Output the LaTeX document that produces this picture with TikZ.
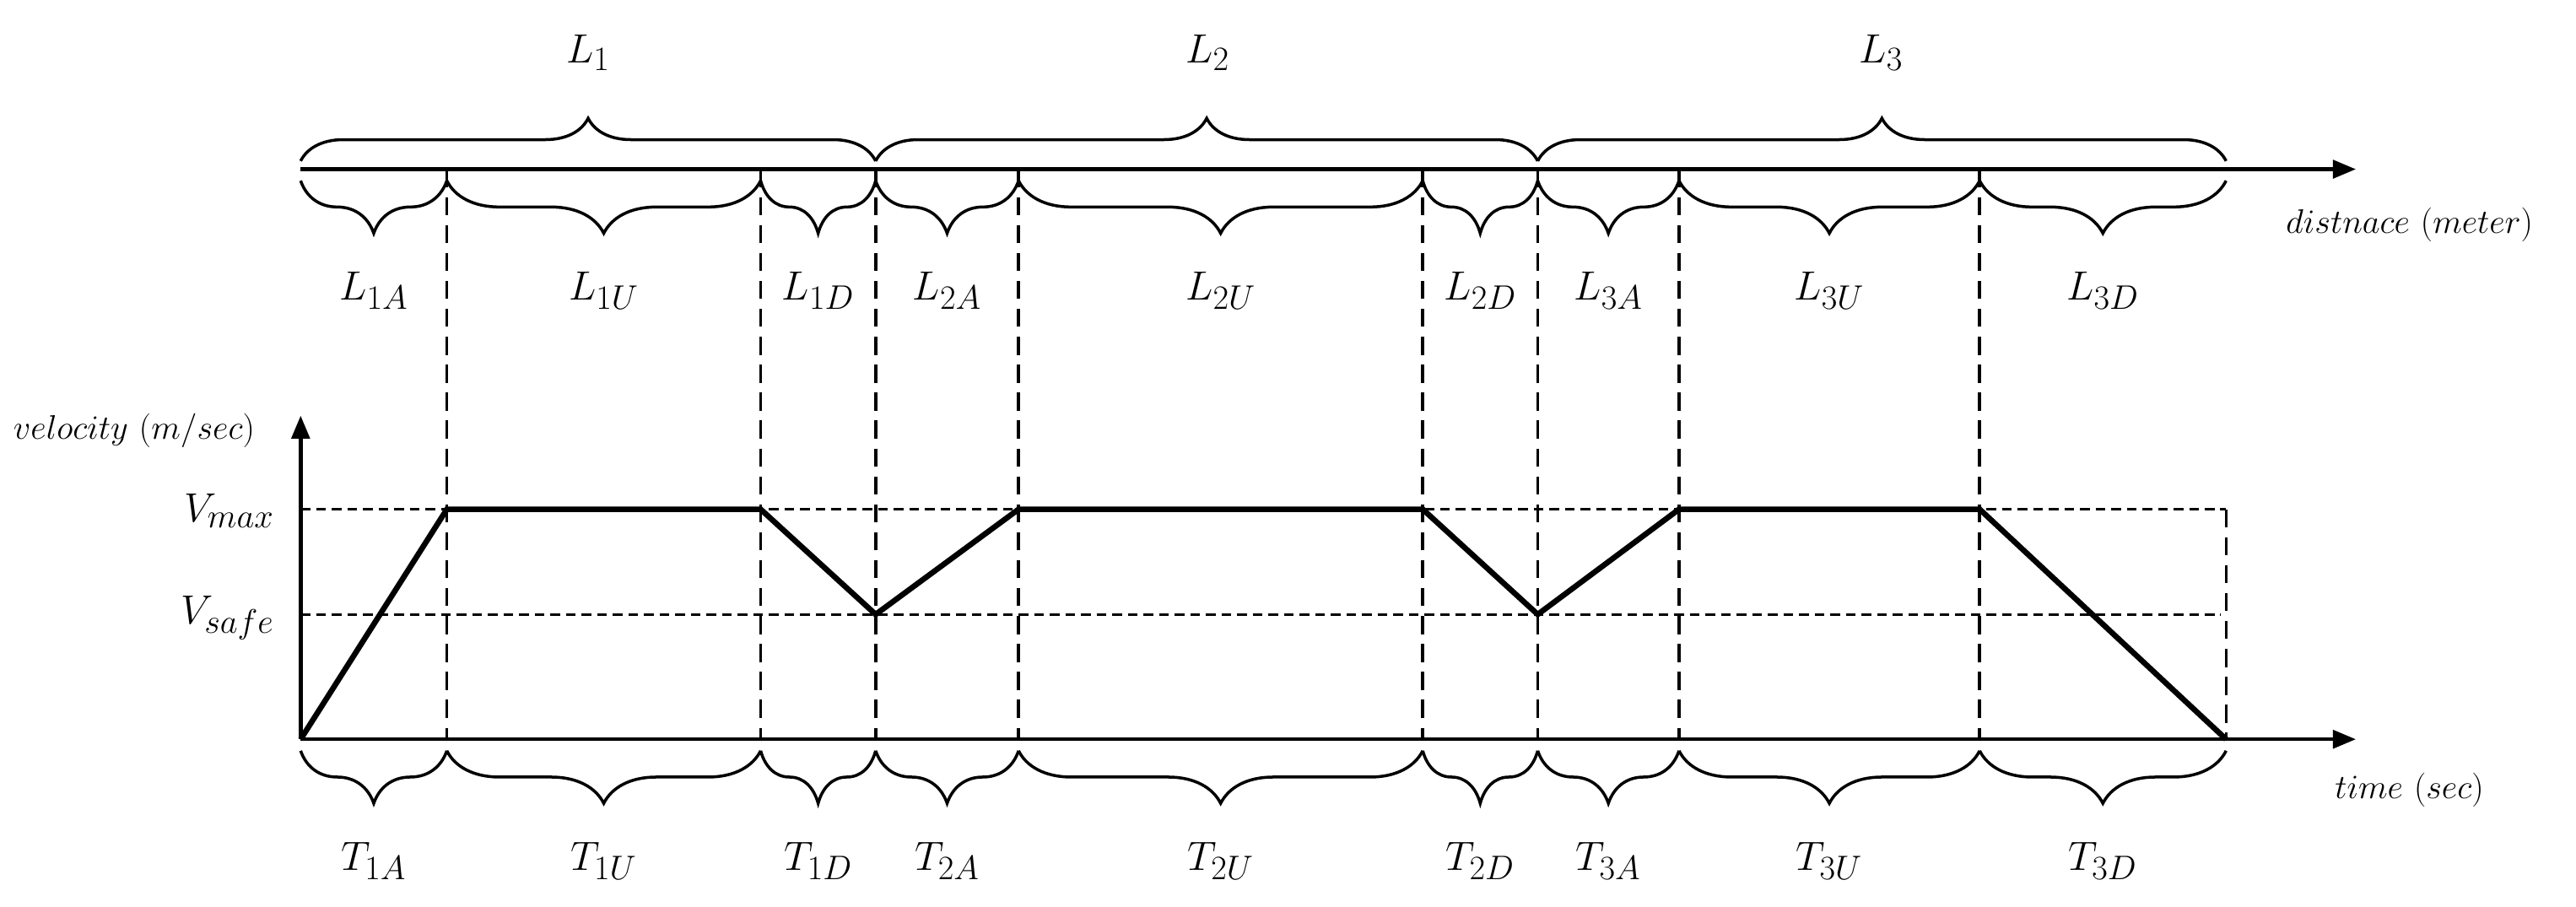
\documentclass[tikz,border=0pt]{standalone}
\usetikzlibrary{decorations.pathreplacing,arrows.meta}
\begin{document}
\begin{tikzpicture}[x=1pt,y=-1pt,
  axis/.style={line width=2.3pt,-{Triangle[length=14pt,width=11pt]}},
  vl/.style={line width=1.8pt,dash pattern=on 11pt off 6pt},
  hl/.style={line width=1.6pt,dash pattern=on 6pt off 3.5pt},
  prof/.style={line width=3.4pt,line join=miter},
  bru/.style={decorate,decoration={brace,amplitude=26pt,aspect=0.5},line width=1.8pt},
  brd/.style={decorate,decoration={brace,amplitude=32pt,mirror},line width=1.8pt},
  lab/.style={font=\fontsize{28}{34}\selectfont,inner sep=0pt},
  ax/.style={font=\fontsize{22}{26}\selectfont,inner sep=0pt}]
\useasboundingbox (0,0) rectangle (1568,552);
\foreach \n/\x in {a/183,b/272,c/463,d/533,e/620,f/866,g/936,h/1022,i/1205,j/1355}{
  \coordinate (D\n) at (\x,103);
  \coordinate (T\n) at (\x,450);
}
\coordinate (Dend) at (1434,103);
\coordinate (Tend) at (1434,450);
\coordinate (Vtop) at (183,253);
\coordinate (Va) at (183,310);
\coordinate (Sa) at (183,374);
\coordinate (Vj) at (1355,310);
\coordinate (Sj) at (1352,374);
\foreach \n in {b,c,d,e,f,g,h,i}{\draw[vl] (D\n) -- (T\n);}
\draw[vl] (Vj) -- (Tj);
\draw[hl] (Va) -- (Vj);
\draw[hl] (Sa) -- (Sj);
\draw[axis] (Da) -- (Dend);
\draw[axis] (Ta) -- (Tend);
\draw[axis] (Ta) -- (Vtop);
\draw[prof] (183,450) -- (272,310) -- (463,310) -- (533,374) -- (620,310) -- (866,310) -- (936,374) -- (1022,310) -- (1205,310) -- (1355,450);
\draw[bru] (183,98) -- (533,98);
\draw[bru] (533,98) -- (936,98);
\draw[bru] (936,98) -- (1355,98);
\node[lab] (L1) at (358,32) {$L_1$};
\node[lab] (L2) at (735,32) {$L_2$};
\node[lab] (L3) at (1145,32) {$L_3$};
\foreach \p/\q/\t/\lbl in {a/b/1A/L1A,b/c/1U/L1U,c/d/1D/L1D,d/e/2A/L2A,e/f/2U/L2U,f/g/2D/L2D,g/h/3A/L3A,h/i/3U/L3U,i/j/3D/L3D}{
  \draw[brd] ([yshift=-7pt]D\p) -- ([yshift=-7pt]D\q);
  \draw[brd] ([yshift=-7pt]T\p) -- ([yshift=-7pt]T\q);
  \path (D\p) -- (D\q) node[lab,midway,yshift=-74pt] (n\lbl) {$L_{\t}$};
  \path (T\p) -- (T\q) node[lab,midway,yshift=-74pt] (m\lbl) {$T_{\t}$};
}
\node[ax,anchor=east] (dist) at (1542,137) {$distnace\ (meter)$};
\node[ax,anchor=east] (time) at (1512,481) {$time\ (sec)$};
\node[ax,anchor=west] (vel) at (8,262) {$velocity\ (m/sec)$};
\node[lab,anchor=east] (vmax) at (167,311) {$V_{max}$};
\node[lab,anchor=east] (vsafe) at (167,376) {$V_{safe}$};
\end{tikzpicture}
\end{document}
